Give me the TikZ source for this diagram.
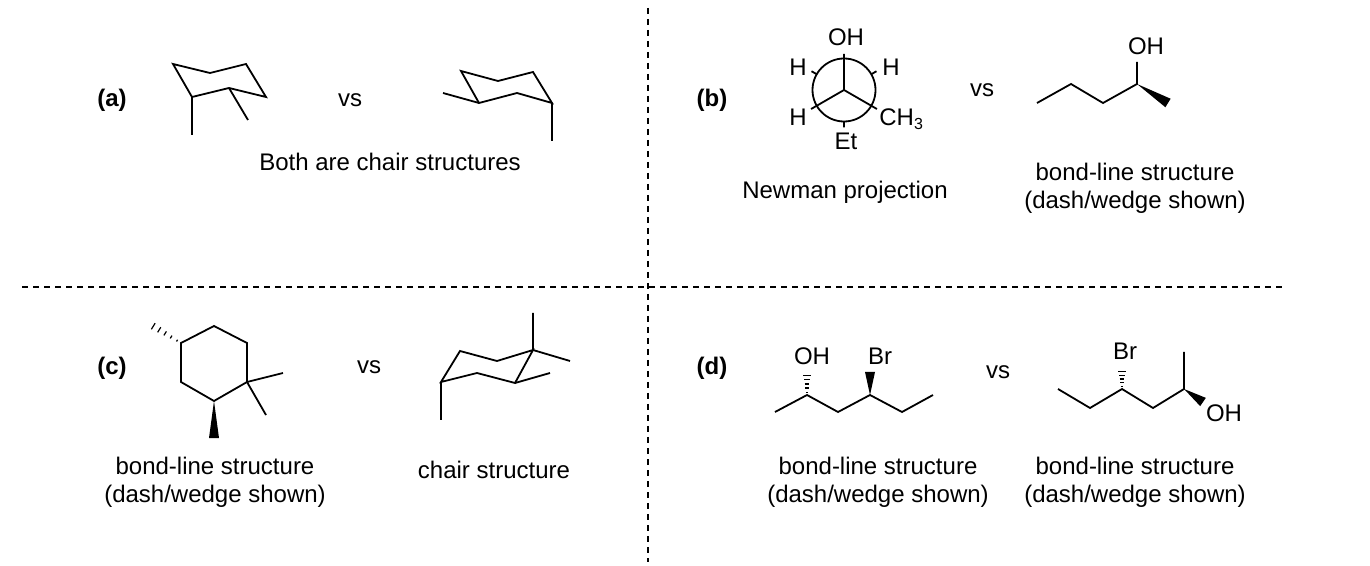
\documentclass[tikz,border=0pt]{standalone}
\usepackage{fontspec}
\setmainfont{Liberation Sans}
\usetikzlibrary{calc}
\begin{document}
\begin{tikzpicture}[x=0.5pt,y=-0.5pt,
  bond/.style={line width=0.9pt,line join=miter},
  lbl/.style={font=\fontsize{12}{14}\selectfont,inner sep=0pt},
  captxt/.style={font=\fontsize{12}{14}\selectfont,inner sep=0pt,align=center},
  tag/.style={font=\bfseries\fontsize{12}{14}\selectfont,inner sep=0pt},
  div/.style={line width=0.6pt,dash pattern=on 3pt off 2.5pt}]
\useasboundingbox (0,0) rectangle (1370,566);
\newcommand{\wedgebond}[2]{\fill ($#1$) -- ($#2!2.5pt!90:#1$) -- ($#2!2.5pt!-90:#1$) -- cycle;}
\newcommand{\hashbond}[2]{\foreach \t in {0.12,0.3,...,0.95}{\pgfmathsetmacro\hw{0.3+1.8*\t}\coordinate (hp) at ($#1!\t!#2$);\draw[line width=0.6pt] ($(hp)!\hw pt!90:#2$) -- ($(hp)!\hw pt!-90:#2$);}}
% dividers
\coordinate (v1) at (648,8); \coordinate (v2) at (648,562);
\coordinate (h1) at (22,287); \coordinate (h2) at (1283,287);
\draw[div] (v1) -- (v2);
\draw[div] (h1) -- (h2);
% (a)
\node[tag] (ta) at (112,100) {(a)};
\draw[bond] (173,64) -- (210,73) -- (246,64) -- (266,97) -- (229,88) -- (192,97) -- cycle;
\draw[bond] (192,97) -- (192,135) (229,88) -- (248,120);
\node[lbl] (vsa) at (350,100) {vs};
\draw[bond] (461,71) -- (498,81) -- (533,72) -- (552,103) -- (517,93) -- (479,103) -- cycle;
\draw[bond] (479,103) -- (443,93) (552,103) -- (552,141);
\node[captxt] (ca) at (390,162) {Both are chair structures};
% (b)
\node[tag] (tb) at (712,100) {(b)};
\coordinate (nc) at (844,90);
\draw[bond] (nc) circle (31.5);
\draw[bond] (nc) -- (844,54) (nc) -- ++(150:38) (nc) -- ++(30:38);
\draw[bond] ($(nc)+(210:31.5)$) -- ++(210:6) ($(nc)+(330:31.5)$) -- ++(330:6) ($(nc)+(90:31.5)$) -- ++(90:6);
\node[lbl] (oh1) at (846,37) {OH};
\node[lbl] (h1l) at (798,67) {H};
\node[lbl] (h1r) at (891,67) {H};
\node[lbl] (h2l) at (798,117) {H};
\node[lbl,anchor=west] (ch3) at (879,119) {CH\textsubscript{3}};
\node[lbl] (et) at (846,141) {Et};
\node[captxt] (cb1) at (845,192) {Newman projection};
\node[lbl] (vsb) at (982,90) {vs};
\draw[bond] (1037,103) -- (1071,84) -- (1103,103) -- (1137,84) -- (1137,62);
\wedgebond{(1137,84)}{(1168,103)}
\node[lbl] (oh2) at (1146,46) {OH};
\node[captxt] (cb2) at (1135,188) {bond-line structure\\(dash/wedge shown)};
% (c)
\node[tag] (tc) at (112,368) {(c)};
\draw[bond] (214,326) -- (247,343) -- (247,382) -- (214,401) -- (181,382) -- (181,343) -- cycle;
\draw[bond] (247,382) -- (283,373) (247,382) -- (266,415);
\hashbond{(181,343)}{(148,323)}
\wedgebond{(214,401)}{(214,438)}
\node[lbl] (vsc) at (369,367) {vs};
\draw[bond] (460,351) -- (497,361) -- (533,350) -- (515,383) -- (477,373) -- (441,382) -- cycle;
\draw[bond] (533,350) -- (533,313) (533,350) -- (570,361) (515,383) -- (550,373) (441,382) -- (441,420);
\node[captxt] (cc1) at (215,482) {bond-line structure\\(dash/wedge shown)};
\node[captxt] (cc2) at (494,470) {chair structure};
% (d)
\node[tag] (td) at (712,368) {(d)};
\draw[bond] (775,412) -- (807,395) -- (838,412) -- (870,395) -- (902,412) -- (933,395);
\hashbond{(807,395)}{(807,372)}
\wedgebond{(870,395)}{(870,372)}
\node[lbl] (oh3) at (812,356) {OH};
\node[lbl] (br1) at (880,356) {Br};
\node[lbl] (vsd) at (998,372) {vs};
\draw[bond] (1058,389) -- (1090,408) -- (1122,389) -- (1153,408) -- (1184,389) -- (1184,352);
\hashbond{(1122,389)}{(1122,368)}
\wedgebond{(1184,389)}{(1203,402)}
\node[lbl] (br2) at (1125,351) {Br};
\node[lbl] (oh4) at (1224,413) {OH};
\node[captxt] (cd1) at (878,482) {bond-line structure\\(dash/wedge shown)};
\node[captxt] (cd2) at (1135,482) {bond-line structure\\(dash/wedge shown)};
\end{tikzpicture}
\end{document}
